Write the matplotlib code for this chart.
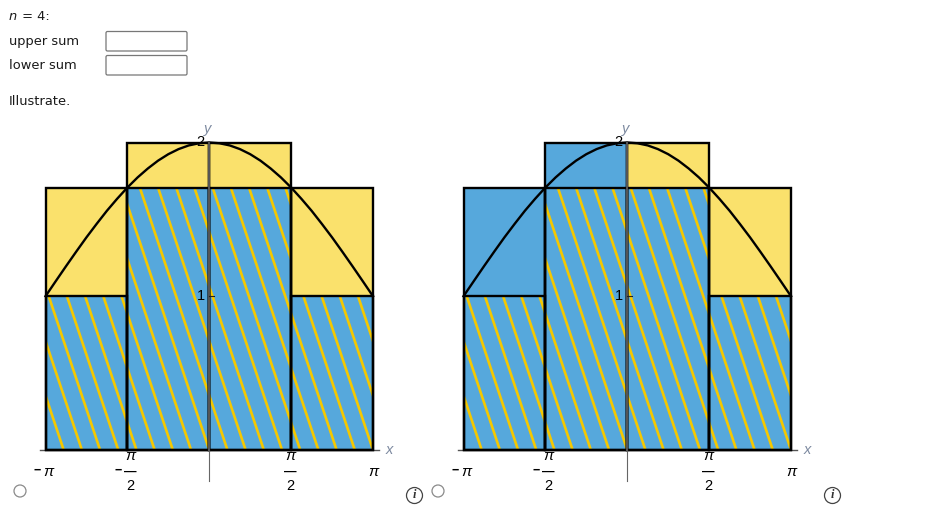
import math
import matplotlib
matplotlib.use("Agg")
import matplotlib.pyplot as plt
from matplotlib.patches import Rectangle, Circle, FancyBboxPatch

W, H = 932, 528
PI = math.pi

# ---- data ----
rect_left = [-PI, -PI / 2, 0, PI / 2]
rect_width = [PI / 2, PI / 2, PI / 2, PI / 2]
upper_heights = [1.707, 2.0, 2.0, 1.707]
lower_heights = [1.0, 1.707, 1.707, 1.0]
curve_x = [k * PI / 16 for k in range(-16, 17)]
curve_y = [1.000, 1.098, 1.195, 1.290, 1.383, 1.471, 1.556, 1.634, 1.707,
           1.773, 1.831, 1.882, 1.924, 1.957, 1.981, 1.995, 2.000,
           1.995, 1.981, 1.957, 1.924, 1.882, 1.831, 1.773, 1.707,
           1.634, 1.556, 1.471, 1.383, 1.290, 1.195, 1.098, 1.000]
panel_upper_colors = [
    ["yellow", "yellow", "yellow", "yellow"],
    ["blue", "blue", "yellow", "yellow"],
]
panel_left_px = [45.5, 463.5]
form_rows = ["upper sum", "lower sum"]
y_ticks = [1, 2]

COL = {"yellow": "#FAE16C", "blue": "#56A8DC"}
STRIPE = "#F5C800"
AXC = "#555555"
TXT = "#1a1a1a"

fig = plt.figure(figsize=(W / 100, H / 100), dpi=100, facecolor="white")

# page overlay in pixel coordinates, for the form part
pg = fig.add_axes([0, 0, 1, 1], zorder=5)
pg.set_xlim(0, W)
pg.set_ylim(H, 0)
pg.axis("off")
pg.patch.set_alpha(0)

FS = 9.4
pg.text(9, 17, "n", fontsize=FS, style="italic", va="center", color=TXT, family="DejaVu Sans")
pg.text(18, 17, " = 4:", fontsize=FS, va="center", color=TXT, family="DejaVu Sans")
for lab_txt, yc in zip(form_rows, [42, 66]):
    pg.text(9, yc - 0.5, lab_txt, fontsize=FS, va="center", color=TXT, family="DejaVu Sans")
    pg.add_patch(FancyBboxPatch((106, yc - 10.5), 81, 19.5,
                                boxstyle="round,pad=0,rounding_size=1.5",
                                fc="white", ec="#777777", lw=0.9))
pg.text(9, 101.5, "Illustrate.", fontsize=FS, va="center", color=TXT, family="DejaVu Sans")

for cx in [20, 438]:
    pg.add_patch(Circle((cx, 491), 6, fc="white", ec="#8a8a8a", lw=0.9))
for cx in [414.5, 832.5]:
    pg.add_patch(Circle((cx, 495.5), 8, fc="white", ec="#444444", lw=0.9))
    pg.text(cx, 495.5, "i", fontsize=9, style="italic", weight="bold", family="Liberation Serif",
            ha="center", va="center", color="#333333")

PW, PH = 327.5, 307.5   # plot box in pixels
BASE = 450.0


def lab(ax, s, x, y, dx, dy, **kw):
    kw.setdefault("fontsize", 10.5)
    kw.setdefault("family", "Liberation Sans")
    kw.setdefault("color", "black")
    ax.annotate(s, xy=(x, y), xycoords="data", xytext=(dx, dy), textcoords="offset pixels",
                ha="center", va="center", annotation_clip=False, **kw)


for colors, left in zip(panel_upper_colors, panel_left_px):
    ax = fig.add_axes([left / W, (H - BASE) / H, PW / W, PH / H], zorder=1)
    ax.set_xlim(-PI, PI)
    ax.set_ylim(0, 2)
    ax.axis("off")

    for x0, w, hu, c in zip(rect_left, rect_width, upper_heights, colors):
        ax.add_patch(Rectangle((x0, 0), w, hu, fc=COL[c], ec="none", zorder=1))
    for x0, w, hl in zip(rect_left, rect_width, lower_heights):
        box = Rectangle((x0, 0), w, hl, fc=COL["blue"], ec="none", zorder=2)
        ax.add_patch(box)
        for k in range(-9, 20):
            xb = k * PI / 9
            line, = ax.plot([xb, xb - 2.0], [0, 2.0 / 0.985], color=STRIPE, lw=1.9,
                            zorder=3, solid_capstyle="butt")
            line.set_clip_path(box)

    # axes
    ax.plot([-PI - 0.10, PI + 0.11], [0, 0], color=AXC, lw=1.0, zorder=4, clip_on=False)
    ax.plot([0, 0], [-0.2, 0], color="#666666", lw=0.8, zorder=7, clip_on=False)
    ax.plot([0, 0], [0, 2.0], color=AXC, lw=1.5, zorder=7, clip_on=False)

    for x0, w, hu, hl in zip(rect_left, rect_width, upper_heights, lower_heights):
        for h in (hu, hl):
            ax.add_patch(Rectangle((x0, 0), w, h, fc="none", ec="black", lw=1.7, zorder=5,
                                   clip_on=False, joinstyle="miter"))

    ax.plot(curve_x, curve_y, color="black", lw=1.7, zorder=6, clip_on=False,
            solid_joinstyle="round")

    # ticks and labels
    ax.plot([0, 0.09], [1, 1], color="#222222", lw=0.8, zorder=7)
    for t in y_ticks:
        lab(ax, str(t), 0, t, -8.5, 0.5)
    lab(ax, "y", 0, 2, -2, 13, style="italic", color="#7d8aa0")
    lab(ax, "x", PI, 0, 16, 0, style="italic", color="#7d8aa0")

    lab(ax, "\u2212", -PI, 0, -8, -21, fontsize=9, weight="bold")
    lab(ax, "\u03c0", -PI, 0, 2.5, -21.5, fontsize=11, style="italic")
    lab(ax, "\u03c0", PI, 0, 0, -21.5, fontsize=11, style="italic")
    for xt in (-PI / 2, PI / 2):
        off = 3.0 if xt < 0 else -0.5
        lab(ax, "\u03c0", xt, 0, off, -6, fontsize=11, style="italic")
        lab(ax, "\u2014", xt, 0, off, -21.5, fontsize=9, weight="bold")
        lab(ax, "2", xt, 0, off, -36)
    lab(ax, "\u2212", -PI / 2, 0, -9, -21, fontsize=9, weight="bold")

fig.savefig("out.png", dpi=100, facecolor="white")
